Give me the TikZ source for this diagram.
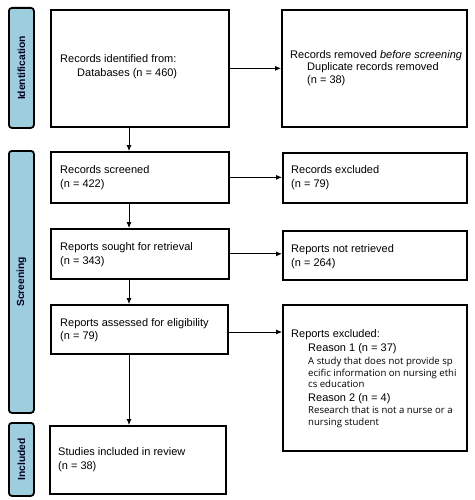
\documentclass[tikz,border=0pt]{standalone}
\usepackage{fontspec}
\setmainfont{Liberation Sans}
\newfontfamily\smallfnt{Open Sans}
\usetikzlibrary{arrows.meta}
\definecolor{phase}{RGB}{158,206,222}
\begin{document}
\begin{tikzpicture}[x=1pt,y=-1pt,
  box/.style={draw=black,line width=1.7pt,rectangle,inner sep=0pt,anchor=north west},
  side/.style={draw=black,line width=1.8pt,fill=phase,rounded corners=3pt,inner sep=0pt,anchor=north west},
  sidelbl/.style={rotate=90,font=\fontsize{10.3}{12}\selectfont\bfseries,text=black!85!blue},
  txt/.style={anchor=base west,inner sep=0pt,font=\fontsize{11}{13}\selectfont},
  rtxt/.style={anchor=base west,inner sep=0pt,font=\fontsize{11}{13}\selectfont},
  stxt/.style={anchor=base west,inner sep=0pt,font=\smallfnt\fontsize{9.6}{11}\selectfont},
  arr/.style={line width=0.8pt,-{Latex[length=6pt,width=5pt]}}]
\useasboundingbox (0,0) rectangle (474,500);
% side phase boxes
\node[side,minimum width=25pt,minimum height=120pt] (sid) at (8,7) {};
\node[side,minimum width=25pt,minimum height=262pt] (ssc) at (8,150) {};
\node[side,minimum width=25pt,minimum height=73pt] (sin) at (8,422) {};
\node[sidelbl] (lid) at (sid.center) {Identification};
\node[sidelbl] (lsc) at (ssc.center) {Screening};
\node[sidelbl] (lin) at (sin.center) {Included};
% main boxes
\node[box,minimum width=178pt,minimum height=117pt] (b1) at (50,9) {};
\node[box,minimum width=185pt,minimum height=117pt] (b2) at (281,9) {};
\node[box,minimum width=178pt,minimum height=51pt] (b3) at (50,151) {};
\node[box,minimum width=184pt,minimum height=50pt] (b4) at (282,152) {};
\node[box,minimum width=178pt,minimum height=50pt] (b5) at (50,228) {};
\node[box,minimum width=184pt,minimum height=49pt] (b6) at (282,230) {};
\node[box,minimum width=177pt,minimum height=49pt] (b7) at (50,304) {};
\node[box,minimum width=184pt,minimum height=146pt] (b8) at (282,304) {};
\node[box,minimum width=176pt,minimum height=68pt] (b9) at (49,425) {};
% texts
\node[txt] (t1a) at (60,63) {Records identified from:};
\node[txt] (t1b) at (77,77) {Databases (n = 460)};
\node[txt] (t2a) at (290,59) {Records removed \textit{before screening}};
\node[txt] (t2b) at (307,71) {Duplicate records removed};
\node[txt] (t2c) at (307,84) {(n = 38)};
\node[txt] (t3a) at (60,173) {Records screened};
\node[txt] (t3b) at (60,187) {(n = 422)};
\node[txt] (t4a) at (291,173) {Records excluded};
\node[txt] (t4b) at (291,187) {(n = 79)};
\node[txt] (t5a) at (60,250) {Reports sought for retrieval};
\node[txt] (t5b) at (60,264) {(n = 343)};
\node[txt] (t6a) at (291,252) {Reports not retrieved};
\node[txt] (t6b) at (291,266) {(n = 264)};
\node[txt] (t7a) at (60,326) {Reports assessed for eligibility};
\node[txt] (t7b) at (60,339) {(n = 79)};
\node[txt] (t8a) at (291,337) {Reports excluded:};
\node[rtxt] (t8b) at (308,351) {Reason 1 (n = 37)};
\node[stxt] (t8c) at (308,364) {A study that does not provide sp};
\node[stxt] (t8d) at (308,376) {ecific information on nursing ethi};
\node[stxt] (t8e) at (308,387) {cs education};
\node[rtxt] (t8f) at (308,401) {Reason 2 (n = 4)};
\node[stxt] (t8g) at (308,413) {Research that is not a nurse or a};
\node[stxt] (t8h) at (308,425) {nursing student};
\node[txt] (t9a) at (58,455) {Studies included in review};
\node[txt] (t9b) at (58,469) {(n = 38)};
% connectors
\coordinate (vx) at (129,0);
\draw[arr] (b1.south -| vx) -- (b3.north -| vx);
\draw[arr] (b3.south -| vx) -- (b5.north -| vx);
\draw[arr] (b5.south -| vx) -- (b7.north -| vx);
\draw[arr] (b7.south -| vx) -- (b9.north -| vx);
\draw[arr] (b1.east) -- (b2.west);
\draw[arr] (b3.east) -- (b3.east -| b4.west);
\draw[arr] (b5.east) -- (b5.east -| b6.west);
\coordinate (h8) at (0,332);
\draw[arr] (b7.east |- h8) -- (b8.west |- h8);
\end{tikzpicture}
\end{document}
